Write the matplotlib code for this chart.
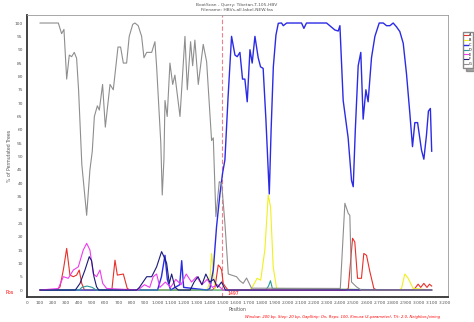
import matplotlib
matplotlib.use("Agg")
import matplotlib.pyplot as plt

# bootscan curves (position in bp, % of permutated trees)
gray_x = [100, 240, 265, 283, 304, 324, 342, 362, 380, 395, 420, 457, 482, 500, 516, 539, 554, 579,
          600, 636, 661, 697, 717, 738, 763, 783, 810, 827, 852, 878, 896, 917, 955, 980, 993, 1025,
          1036, 1049, 1057, 1074, 1095, 1116, 1133, 1172, 1210, 1228, 1253, 1269, 1286, 1312, 1350,
          1376, 1414, 1427, 1447, 1473, 1491, 1516, 1542, 1567, 1605, 1630, 1656, 1682, 1720, 2400,
          2435, 2461, 2473, 2486, 2524, 2560, 3100]
gray_y = [100, 100, 96, 97.6, 79, 88, 87.4, 89, 86.8, 75, 47, 28, 45, 52, 65, 69, 67.4, 77,
          61, 77, 75, 91, 91, 85, 85, 95, 99.5, 100, 99, 95, 87, 89, 89, 93, 83.6, 55,
          35.6, 49, 71, 65, 85, 77, 80.5, 65, 95, 75, 93, 84, 93.6, 77, 92,
          85.5, 56, 57, 27.5, 40.6, 40, 25, 6, 5.6, 5, 3.5, 2.5, 4.5, 0.7, 0.6,
          32.5, 28.7, 28, 3, 1.2, 0, 0]

blue_x = [100, 1000, 1030, 1040, 1057, 1075, 1100, 1170, 1185, 1200, 1380, 1401, 1427, 1452, 1478,
          1498, 1516, 1540, 1567, 1593, 1610, 1631, 1651, 1669, 1687, 1708, 1725, 1746, 1771, 1789,
          1809, 1830, 1856, 1870, 1887, 1907, 1925, 1950, 1963, 1989, 2103, 2121, 2141, 2295, 2358,
          2384, 2397, 2422, 2460, 2486, 2499, 2515, 2537, 2557, 2575, 2596, 2613, 2639, 2665, 2698,
          2729, 2754, 2780, 2805, 2830, 2856, 2882, 2907, 2933, 2953, 2971, 2992, 3022, 3040, 3060,
          3075, 3090, 3100]
blue_y = [0, 0, 5, 8, 13, 4, 0, 2, 11, 1, 0, 0.6, 7.5, 23.7, 36,
          43.7, 48.7, 72, 95, 88, 87.4, 89, 79, 79, 70.5, 90, 85, 95, 87, 83.6,
          83, 64, 36, 60, 83.6, 95.5, 99.9, 100, 99, 100, 100, 98, 100, 100, 97.4,
          97, 99, 71, 57, 41, 38.7, 60, 84, 89, 64, 75, 70.5, 87, 95, 100,
          100, 99, 99, 100, 98.6, 96.8, 92.4, 81, 66, 53.7, 62.7, 62.7, 52.4, 49, 58,
          67, 68, 52]

red_x = [100, 230, 253, 280, 304, 329, 355, 380, 400, 419, 440, 650, 674, 692, 738, 768, 790, 1420,
         1440, 1465, 1478, 1491, 1503, 1516, 1540, 2440, 2461, 2494, 2511, 2532, 2562, 2580, 2601,
         2626, 2657, 2680, 2950, 2971, 2996, 3016, 3040, 3064, 3083, 3100]
red_y = [0, 0, 1.2, 8, 15.6, 5.6, 5, 5.6, 7.5, 2.5, 0, 0, 11.2, 5.6, 6, 0.6, 0, 0,
         1, 9.4, 8.7, 7.5, 2.5, 1.5, 0, 0, 0.6, 19.4, 18, 4.4, 4.4, 13.7, 13,
         7, 0.6, 0, 0, 0.6, 2.2, 1, 2.5, 1, 2.2, 1.5]

mag_x = [100, 240, 278, 316, 355, 393, 431, 457, 482, 508, 533, 559, 580, 610, 850, 900, 940, 967,
         993, 1018, 1060, 1100, 1140, 1180, 1220, 1260, 1300, 1340, 1380, 1420, 1460, 1500, 3100]
mag_y = [0, 0.6, 5, 4.4, 7.5, 8.7, 15, 17.5, 15, 6, 5, 7.5, 2.5, 0.6, 0, 2, 1, 5,
         6, 1, 3, 1, 4, 2, 6, 3, 5, 2, 4, 1, 2, 0, 0]

navy_x = [100, 370, 406, 444, 477, 495, 513, 533, 550, 840, 861, 917, 955, 993, 1031, 1049, 1070,
          1090, 1108, 1134, 1160, 1250, 1280, 1310, 1340, 1370, 1400, 1430, 1460, 1490, 1520, 3100]
navy_y = [0, 0, 2.5, 7.5, 12.5, 11, 5, 1.2, 0, 0, 1, 5, 5, 8.7, 14.4, 12.5, 10,
          2.5, 6, 1, 0, 0, 3, 5, 2, 6, 3, 4, 1, 3, 0, 0]

teal_x = [100, 400, 420, 460, 500, 530, 1830, 1850, 1865, 1880, 3100]
teal_y = [0, 0, 1, 1.5, 1, 0, 0, 1.5, 3.5, 0.5, 0]

yel_x = [100, 1380, 1400, 1414, 1427, 1440, 1700, 1720, 1763, 1790, 1822, 1848, 1866, 1886, 1912,
         2850, 2869, 2894, 2920, 2958, 3100]
yel_y = [0, 0, 3, 13.7, 7.5, 0, 0, 0.6, 4.4, 3.7, 15, 35.6, 31, 8.7, 0.6,
         0, 0.6, 6, 4.4, 0.6, 0]

labels = ["A", "B", "C", "D", "E", "F", "G"]
breakpoint_pos = 1497
x_ticks = list(range(0, 3201, 100))
y_ticks = list(range(0, 101, 5))

fig = plt.figure(figsize=(4.74, 3.22), dpi=100)
ax = fig.add_axes([27/474, 1 - 297/322, 421/474, 282/322])

series = [
    (red_x, red_y, "#e8302a", labels[0]),
    (yel_x, yel_y, "#f0f020", labels[1]),
    (blue_x, blue_y, "#2b2be6", labels[2]),
    (teal_x, teal_y, "#2a9a9a", labels[3]),
    (mag_x, mag_y, "#ee3cee", labels[4]),
    (navy_x, navy_y, "#1a1a78", labels[5]),
    (gray_x, gray_y, "#8e8e8e", labels[6]),
]
for i, (xs, ys, c, lab) in enumerate(series):
    ax.plot(xs, ys, color=c, lw=1.0 if lab == "C" else 0.8, label=lab, zorder=2 + i)

ax.axvline(breakpoint_pos, color="#f07f8f", lw=0.8, ls=(0, (4, 2)), zorder=1)
ax.text(breakpoint_pos + 40, -1.2, str(breakpoint_pos), color="red", fontsize=3.3,
        va="center", ha="left")

ax.set_xlim(0, 3225)
ax.set_ylim(-2.6, 103)
ax.set_xticks(x_ticks)
ax.set_xticklabels([f"{v:,}".replace(",", ".") for v in x_ticks])
ax.set_yticks(y_ticks)
ax.tick_params(labelsize=3.2, colors="#555555", length=0, pad=3)
ax.set_xlabel("Position", fontsize=3.3, color="#555555", labelpad=1)
ax.set_ylabel("% of Permutated Trees", fontsize=3.3, color="#555555", labelpad=2)

for s in ["top", "right"]:
    ax.spines[s].set_color("#999999")
    ax.spines[s].set_linewidth(0.6)
for s in ["left", "bottom"]:
    ax.spines[s].set_color("#333333")
    ax.spines[s].set_linewidth(1.3)

fig.text(0.5, 1 - 5/322, "BootScan - Query: Tibetan-T-105-HBV", fontsize=3.2,
         color="#555555", ha="center", va="center")
fig.text(0.5, 1 - 10/322, "Filename: HBVs-all.label-NEW.fas", fontsize=3.2,
         color="#555555", ha="center", va="center")
fig.text(5/474, 1 - 293/322, "Pos", fontsize=3.5, color="red", va="center")
fig.text(440/474, 1 - 317/322,
         "Window: 200 bp, Step: 20 bp, GapStrip: On, Reps: 100, Kimura (2-parameter), "
         "T/t: 2.0, Neighbor-Joining",
         fontsize=2.7, color="red", ha="right", va="center", style="italic")

fig.legend(loc="upper left", bbox_to_anchor=(461/474, 1 - 30/322), fontsize=2.5,
           handlelength=1.0, handletextpad=0.3, borderpad=0.4, labelspacing=0.25,
           frameon=True, fancybox=False, shadow=True, edgecolor="#888888")

fig.savefig("out.png", dpi=100)
